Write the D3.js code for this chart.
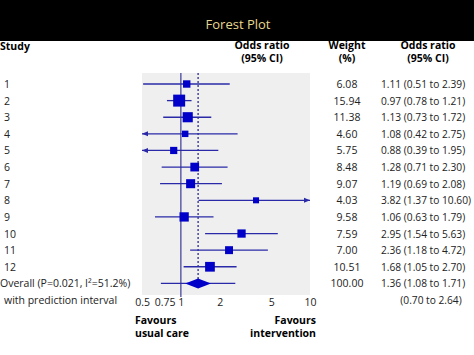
<!DOCTYPE html>
<html><head><meta charset="utf-8">
<script src="https://cdn.jsdelivr.net/npm/d3@7"></script>
<style>body{margin:0;background:#fff;}svg{display:block;}</style>
</head><body>
<script>
const studies = ["1","2","3","4","5","6","7","8","9","10","11","12"];
const oddsRatio = [1.11,0.97,1.13,1.08,0.88,1.28,1.19,3.82,1.06,2.95,2.36,1.68];
const ciLow = [0.51,0.78,0.73,0.42,0.39,0.71,0.69,1.37,0.63,1.54,1.18,1.05];
const ciHigh = [2.39,1.21,1.72,2.75,1.95,2.30,2.08,10.60,1.79,5.63,4.72,2.70];
const weights = [6.08,15.94,11.38,4.60,5.75,8.48,9.07,4.03,9.58,7.59,7.00,10.51];
const overallLabel = "Overall (P=0.021, I²=51.2%)";
const overallOR = [1.36, 1.08, 1.71];
const overallWeight = 100.00;
const predLabel = "with prediction interval";
const predInterval = [0.70, 2.64];
const tickValues = [0.5, 0.75, 1, 2, 5, 10];

const W = 474, H = 355;
const svg = d3.select("body").append("svg").attr("width", W).attr("height", H);
const font = "'Open Sans', 'Noto Sans', sans-serif";
const lineCol = "#2a2aa8", boxCol = "#0000c8";

svg.append("rect").attr("x",0).attr("y",0).attr("width",W).attr("height",41).attr("fill","#000");
svg.append("text").attr("x",238).attr("y",29).attr("text-anchor","middle")
  .attr("font-family",font).attr("font-size",13).attr("fill","#e8d78f").text("Forest Plot");

const x = d3.scaleLog().domain([0.5, 10]).range([142, 310]);
const rowKeys = studies.concat(["overall","pred"]);
const y = d3.scalePoint().domain(rowKeys).range([84, 300]);

// panel
svg.append("rect").attr("x",x(0.5)).attr("y",73).attr("width",x(10)-x(0.5)).attr("height",222).attr("fill","#efefef");

// headers
const hdr = svg.append("g").attr("font-family",font).attr("font-size",10.5).attr("font-weight","bold").attr("fill","#000");
hdr.append("text").attr("x",0).attr("y",50).text("Study");
[[262,"Odds ratio","(95% CI)"],[347,"Weight","(%)"],[428,"Odds ratio","(95% CI)"]].forEach(([cx,a,b])=>{
  hdr.append("text").attr("x",cx).attr("y",49).attr("text-anchor","middle").text(a);
  hdr.append("text").attr("x",cx).attr("y",62).attr("text-anchor","middle").text(b);
});

// reference lines
svg.append("line").attr("x1",x(1)).attr("x2",x(1)).attr("y1",73).attr("y2",297).attr("stroke","#3a3a96").attr("stroke-width",1.2);
svg.append("line").attr("x1",x(overallOR[0])).attr("x2",x(overallOR[0])).attr("y1",73).attr("y2",y("overall"))
  .attr("stroke","#3a3a96").attr("stroke-width",1.4).attr("stroke-dasharray","2,2");

const [dLo, dHi] = x.domain();
const arrow = (xp, yp, dir) => {
  svg.append("path").attr("d", `M${xp},${yp} L${xp-dir*6},${yp-2.5} L${xp-dir*6},${yp+2.5} Z`).attr("fill",lineCol);
};

const fmt = d3.format(".2f");
const txt = svg.append("g").attr("font-family",font).attr("font-size",10.5).attr("fill","#222");

studies.forEach((s,i)=>{
  const yy = y(s);
  const l = Math.max(ciLow[i], dLo), h = Math.min(ciHigh[i], dHi);
  svg.append("line").attr("x1",x(l)).attr("x2",x(h)).attr("y1",yy).attr("y2",yy).attr("stroke",lineCol).attr("stroke-width",1.3);
  if (ciLow[i] < dLo) arrow(x(dLo), yy, -1);
  if (ciHigh[i] > dHi) arrow(x(dHi), yy, 1);
  const side = 3 * Math.sqrt(weights[i]);
  svg.append("rect").attr("x",x(oddsRatio[i])-side/2).attr("y",yy-side/2).attr("width",side).attr("height",side).attr("fill",boxCol);
  txt.append("text").attr("x",4).attr("y",yy+4).text(s);
  txt.append("text").attr("x",347).attr("y",yy+4).attr("text-anchor","middle").text(fmt(weights[i]));
  txt.append("text").attr("x",381).attr("y",yy+4).attr("font-size",10.2).text(`${fmt(oddsRatio[i])} (${fmt(ciLow[i])} to ${fmt(ciHigh[i])})`);
});

// overall
const yo = y("overall");
svg.append("line").attr("x1",x(predInterval[0])).attr("x2",x(predInterval[1])).attr("y1",yo).attr("y2",yo).attr("stroke",lineCol).attr("stroke-width",1.3);
svg.append("path").attr("d",`M${x(overallOR[1])},${yo} L${x(overallOR[0])},${yo-5} L${x(overallOR[2])},${yo} L${x(overallOR[0])},${yo+5} Z`).attr("fill",boxCol);
txt.append("text").attr("x",0).attr("y",yo+4).text(overallLabel);
txt.append("text").attr("x",347).attr("y",yo+4).attr("text-anchor","middle").text(fmt(overallWeight));
txt.append("text").attr("x",381).attr("y",yo+4).attr("font-size",10.2).text(`${fmt(overallOR[0])} (${fmt(overallOR[1])} to ${fmt(overallOR[2])})`);
const yp = y("pred");
txt.append("text").attr("x",4).attr("y",yp+4).text(predLabel);
txt.append("text").attr("x",431).attr("y",yp+4).attr("font-size",10.2).attr("text-anchor","middle").text(`(${fmt(predInterval[0])} to ${fmt(predInterval[1])})`);

// axis
const ax = svg.append("g").attr("transform","translate(0,299)")
  .call(d3.axisBottom(x).tickValues(tickValues).tickFormat(d=>String(d)).tickSize(0).tickPadding(0));
ax.select(".domain").remove();
ax.selectAll("text").attr("font-family",font).attr("font-size",10.5).attr("fill","#222").attr("dy","0.71em");

const fv = svg.append("g").attr("font-family",font).attr("font-size",10.5).attr("font-weight","bold").attr("fill","#000");
fv.append("text").attr("x",135).attr("y",324).text("Favours");
fv.append("text").attr("x",135).attr("y",337).text("usual care");
fv.append("text").attr("x",316).attr("y",324).attr("text-anchor","end").text("Favours");
fv.append("text").attr("x",316).attr("y",337).attr("text-anchor","end").text("intervention");
</script>
</body></html>
